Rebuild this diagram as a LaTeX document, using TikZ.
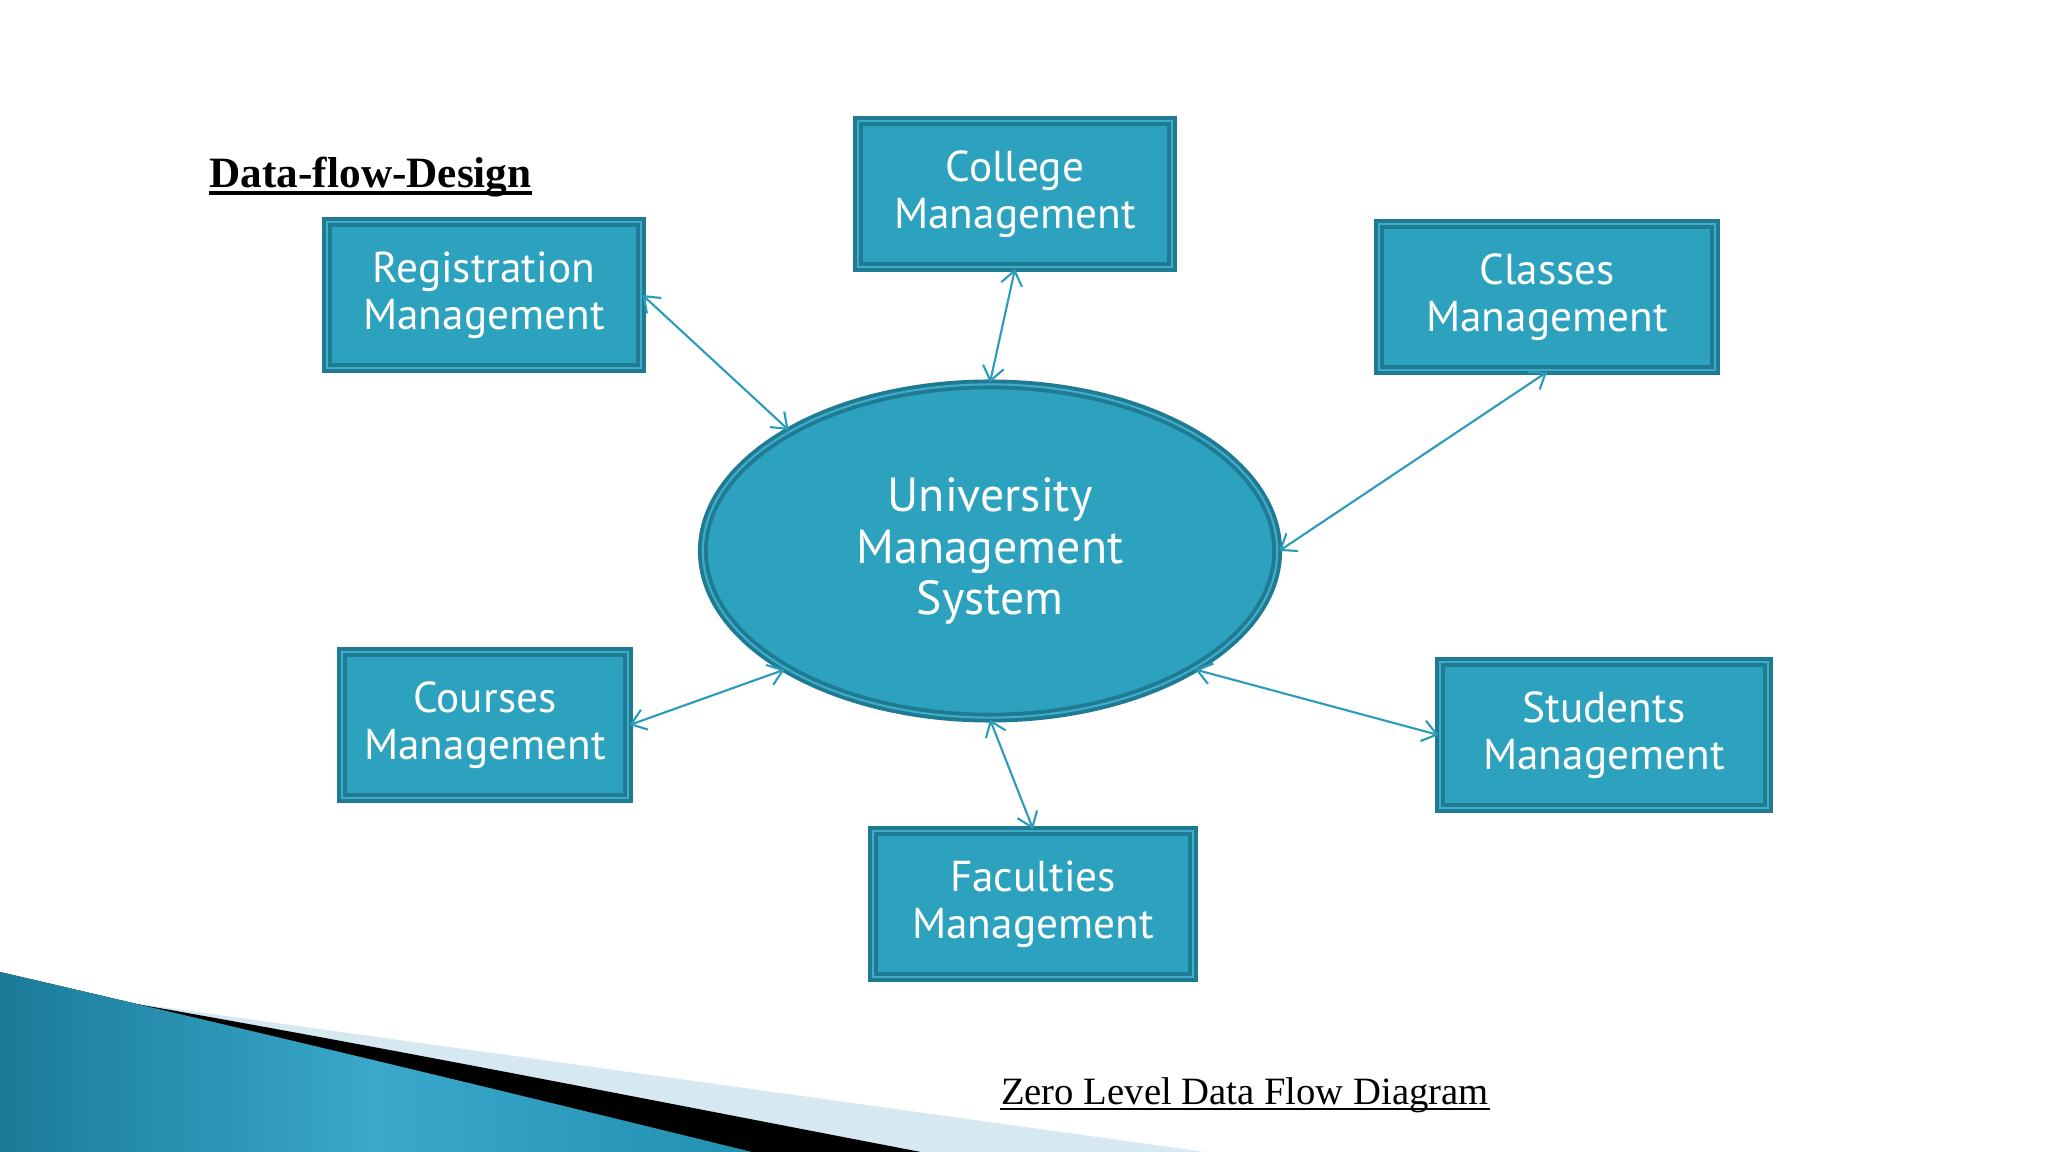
\documentclass[tikz,border=0pt]{standalone}
\usepackage{fontspec}
\setmainfont{Liberation Serif}
\newfontfamily\unitfont{PT Sans}
\usetikzlibrary{shapes.geometric,arrows.meta,calc}
\definecolor{unitfill}{HTML}{2DA2BF}
\definecolor{unitedge}{HTML}{1F7B93}
\definecolor{unitring}{HTML}{3FADC8}
\definecolor{flowline}{HTML}{2A9CBA}
\definecolor{swoopdark}{HTML}{1A7B98}
\definecolor{swoopmid}{HTML}{3AA8CA}
\definecolor{swoopend}{HTML}{2190B1}
\definecolor{swoopmist}{HTML}{D6E8F0}
\tikzset{
	unit/.style = {rectangle, fill=unitfill, draw=unitedge, double=unitring,
		double distance=0.6pt, line width=1.1pt, text=white, align=center,
		minimum width=#1, minimum height=1.46cm, inner sep=0pt,
		font=\unitfont\fontsize{12.3}{13.4}\selectfont},
	unit/.default = 3.2cm,
	flow/.style = {draw=flowline, line width=0.6pt,
		{Straight Barb[length=4pt,width=6pt]}-{Straight Barb[length=4pt,width=6pt]}}
}

\begin{document}
\begin{tikzpicture}[x=0.01cm, y=-0.01cm]
\useasboundingbox (0,0) rectangle (2048,1152);

% swoosh in the lower left corner
\fill[swoopmist] (140,1004) -- (1205,1152) -- (850,1152) -- cycle;
\fill[black] (108,999) .. controls (400,1050) and (650,1100) .. (921,1152) -- (740,1152) -- cycle;
\fill[left color=swoopdark, right color=swoopend, middle color=swoopmid]
	(0,972) .. controls (250,1030) and (500,1090) .. (752,1152) -- (0,1152) -- cycle;

\node[anchor=base west, inner sep=0pt, font=\bfseries\fontsize{12.3}{14}\selectfont] (title) at (209,188) {Data-flow-Design};
\draw[line width=1.1pt] ($(title.base west)+(0,5)$) -- ($(title.base east)+(0,5)$);

\node[ellipse, fill=unitfill, draw=unitedge, double=unitring, double distance=0.6pt,
	line width=1.1pt, minimum width=5.74cm, minimum height=3.33cm, inner sep=0pt,
	text=white, align=center, font=\unitfont\fontsize{13.6}{14.6}\selectfont]
	(ums) at (990,551) {University\\Management\\System};

\node[unit=3.13cm] (reg) at (484,295) {Registration\\Management};
\node[unit=3.13cm] (col) at (1015,194) {College\\Management};
\node[unit=3.35cm] (cls) at (1547,297) {Classes\\Management};
\node[unit=2.85cm] (crs) at (485,725) {Courses\\Management};
\node[unit=3.27cm] (stu) at (1604,735) {Students\\Management};
\node[unit=3.19cm] (fac) at (1033,904) {Faculties\\Management};

\draw[flow] (reg.east) to (ums.149);
\draw[flow] (col.south) to (ums.north);
\draw[flow] (cls.south) to (ums.east);
\draw[flow] (crs.east) to (ums.210);
\draw[flow] (stu.west) to (ums.330);
\draw[flow] (fac.north) to (ums.south);

\node[anchor=base, inner sep=0pt, font=\fontsize{11}{13}\selectfont] (caption) at (1245,1104) {Zero Level Data Flow Diagram};
\draw[line width=0.6pt] ($(caption.base west)+(0,5)$) -- ($(caption.base east)+(0,5)$);
\end{tikzpicture}
\end{document}
